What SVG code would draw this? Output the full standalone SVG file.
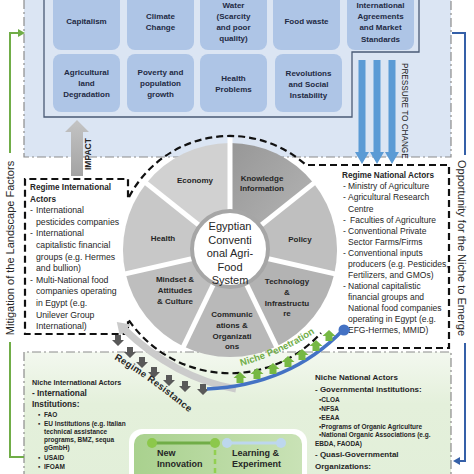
<svg xmlns="http://www.w3.org/2000/svg" width="474" height="474" viewBox="0 0 474 474">
<defs>
<style>
text{font-family:'Liberation Sans',Arial,Helvetica,sans-serif;fill:#262626}
.lb{font-weight:bold;font-size:8px;fill:#1f2a44;text-anchor:middle}
.bx{fill:#aec5e6}
.dd{fill:none;stroke:#8c8c8c;stroke-width:1.2;stroke-dasharray:9 3 2 3}
.rt{font-size:8.7px}
.rr{font-size:8.5px}
.hd{font-weight:bold}
.sg{font-weight:bold;font-size:8px;text-anchor:middle}
.ct{font-size:11px;text-anchor:middle}
.nb{font-weight:bold;font-size:6.5px}
.nh{font-weight:bold;font-size:8px}
.dv{stroke:#fff;stroke-width:5}
.side{font-size:11px;text-anchor:middle}
</style>
<linearGradient id="gk" x1="0" y1="0" x2="1" y2="1"><stop offset="0" stop-color="#979797"/><stop offset="1" stop-color="#b8b8b8"/></linearGradient>
<linearGradient id="gn" x1="0" y1="0" x2="0" y2="1"><stop offset="0" stop-color="#f3f8ef"/><stop offset="0.4" stop-color="#e4f0db"/><stop offset="1" stop-color="#e2efd9"/></linearGradient>
<linearGradient id="gi" x1="0" y1="0" x2="1" y2="0"><stop offset="0" stop-color="#a9d18e"/><stop offset="1" stop-color="#c9e2b6"/></linearGradient>
<linearGradient id="gm" x1="0" y1="0" x2="0" y2="1"><stop offset="0" stop-color="#c4c4c4"/><stop offset="1" stop-color="#a3a3a3"/></linearGradient>
<path id="pa" d="M-3.5,0 H3.5 V92 H7 L0,104 L-7,92 H-3.5 Z" fill="#5b9bd5"/>
<path id="da" d="M-3,-5 H3 V0 H6 L0,6 L-6,0 H-3 Z" fill="#595959"/>
<path id="ua" d="M-3.5,0 H3.5 V-5 H6.5 L0,-11 L-6.5,-5 H-3.5 Z" fill="#76b843"/>
<marker id="mg" markerUnits="userSpaceOnUse" markerWidth="14" markerHeight="16" refX="2" refY="8" orient="auto"><path d="M0,0 L12,8 L0,16 Z" fill="#cbcbcb"/></marker>
<path id="rrp" d="M114,359 Q152,381 193,416"/>
<path id="npp" d="M241,366 Q285,354 322,328"/>
</defs>

<!-- Landscape -->
<g id="landscape">
<rect x="24" y="-5" width="427" height="162" fill="#dbe5f3"/>
<path class="dd" d="M24,0 V157 H451 V0"/>
<path d="M44,0 V117 H352 V52 H419 V0" fill="none" stroke="#4a5a75" stroke-width="1.3"/>
</g>
<g id="capitalism"><rect class="bx" x="53" y="-10" width="67" height="60" rx="8"/><text class="lb" x="86.5" y="24">Capitalism</text></g>
<g id="climate"><rect class="bx" x="127" y="-10" width="67" height="60" rx="8"/><text class="lb" x="160.5" y="19">Climate</text><text class="lb" x="160.5" y="30">Change</text></g>
<g id="water"><rect class="bx" x="200" y="-10" width="67" height="60" rx="8"/><text class="lb" x="233.5" y="8">Water</text><text class="lb" x="233.5" y="19">(Scarcity</text><text class="lb" x="233.5" y="30">and poor</text><text class="lb" x="233.5" y="41">quality)</text></g>
<g id="foodwaste"><rect class="bx" x="273" y="-10" width="67" height="60" rx="8"/><text class="lb" x="306.5" y="24">Food waste</text></g>
<g id="agreements"><rect class="bx" x="347" y="-10" width="67" height="60" rx="8"/><text class="lb" x="380.5" y="8">International</text><text class="lb" x="380.5" y="19">Agreements</text><text class="lb" x="380.5" y="30">and Market</text><text class="lb" x="380.5" y="41.5">Standards</text></g>
<g id="degradation"><rect class="bx" x="53" y="54" width="67" height="58" rx="8"/><text class="lb" x="86.5" y="75">Agricultural</text><text class="lb" x="86.5" y="86">land</text><text class="lb" x="86.5" y="97">Degradation</text></g>
<g id="poverty"><rect class="bx" x="127" y="54" width="67" height="58" rx="8"/><text class="lb" x="160.5" y="74.5">Poverty and</text><text class="lb" x="160.5" y="85.5">population</text><text class="lb" x="160.5" y="96.5">growth</text></g>
<g id="health-problems"><rect class="bx" x="200" y="54" width="67" height="58" rx="8"/><text class="lb" x="233.5" y="81">Health</text><text class="lb" x="233.5" y="92">Problems</text></g>
<g id="revolutions"><rect class="bx" x="275" y="54" width="67" height="58" rx="8"/><text class="lb" x="308.5" y="76">Revolutions</text><text class="lb" x="308.5" y="87">and Social</text><text class="lb" x="308.5" y="98">Instability</text></g>

<!-- Niche area -->
<g id="niche">
<rect x="24" y="352" width="427" height="130" fill="url(#gn)"/>
<path class="dd" d="M24,480 V352 H451 V480"/>
</g>

<!-- Connectors -->
<g id="connectors">
<path d="M10,153 V33 H19" fill="none" stroke="#70ad47" stroke-width="2"/>
<polygon points="18,29 25,33 18,37" fill="#70ad47"/>
<path d="M10,342 V457 H24" fill="none" stroke="#70ad47" stroke-width="2"/>
<path d="M452,33 H465 V155" fill="none" stroke="#3560a8" stroke-width="2"/>
<path d="M465,343 V461 H459" fill="none" stroke="#3560a8" stroke-width="2"/>
<polygon points="460,457 453,461 460,465" fill="#3560a8"/>
<use href="#pa" x="362" y="60"/>
<use href="#pa" x="377" y="60"/>
<use href="#pa" x="392" y="60"/>
<path d="M71,176 V132 H65 L77,120 L89,132 H83 V176 Z" fill="url(#gm)"/>
<path d="M337,348 H449 V165 H306 A114,114 0 0 0 128,199 V179 H25 V334 H128 V319 A123,123 0 0 0 321,333" fill="none" stroke="#111" stroke-width="2.2" stroke-dasharray="7 4"/>
</g>
<text class="side" transform="translate(14,248) rotate(-90)">Mitigation of the Landscape Factors</text>
<text class="side" transform="translate(458,248) rotate(90)">Opportunity for the Niche to Emerge</text>
<text transform="translate(402,63) rotate(90)" font-size="8.2">PRESSURE TO CHANGE</text>
<text class="hd" transform="translate(91,170) rotate(-90)" font-size="8.5" fill="#333">IMPACT</text>

<!-- Wheel -->
<g id="wheel">
<path id="seg-knowledge" d="M230,250 L230,143 A107,107 0 0 1 313.65,183.29 Z" fill="url(#gk)"/>
<path id="seg-policy" d="M230,250 L313.65,183.29 A107,107 0 0 1 334.32,273.81 Z" fill="#bfbfbf"/>
<path id="seg-technology" d="M230,250 L334.32,273.81 A107,107 0 0 1 276.43,346.41 Z" fill="#b3b3b3"/>
<path id="seg-communications" d="M230,250 L276.43,346.41 A107,107 0 0 1 183.57,346.41 Z" fill="#b9b9b9"/>
<path id="seg-mindset" d="M230,250 L183.57,346.41 A107,107 0 0 1 125.68,273.81 Z" fill="#bebebe"/>
<path id="seg-health" d="M230,250 L125.68,273.81 A107,107 0 0 1 146.35,183.29 Z" fill="#c8c8c8"/>
<path id="seg-economy" d="M230,250 L146.35,183.29 A107,107 0 0 1 230,143 Z" fill="#d1d1d1"/>
<line class="dv" x1="230" y1="250" x2="230" y2="138"/>
<line class="dv" x1="230" y1="250" x2="317.56" y2="180.17"/>
<line class="dv" x1="230" y1="250" x2="339.19" y2="274.92"/>
<line class="dv" x1="230" y1="250" x2="278.6" y2="350.91"/>
<line class="dv" x1="230" y1="250" x2="181.4" y2="350.91"/>
<line class="dv" x1="230" y1="250" x2="120.81" y2="274.92"/>
<line class="dv" x1="230" y1="250" x2="142.44" y2="180.17"/>
<circle cx="230" cy="249" r="38" fill="#fff" stroke="#a6a6a6" stroke-width="4"/>
<text class="sg" x="195" y="183">Economy</text>
<text class="sg" x="262" y="181">Knowledge</text>
<text class="sg" x="262" y="191">Information</text>
<text class="sg" x="163" y="241">Health</text>
<text class="sg" x="300" y="242">Policy</text>
<text class="sg" x="175" y="282">Mindset &amp;</text>
<text class="sg" x="175" y="293">Attitudes</text>
<text class="sg" x="175" y="304">&amp; Culture</text>
<text class="sg" x="287" y="284">Technology</text>
<text class="sg" x="287" y="295">&amp;</text>
<text class="sg" x="287" y="306">Infrastructu</text>
<text class="sg" x="287" y="316">re</text>
<text class="sg" x="232" y="317">Communic</text>
<text class="sg" x="232" y="328">ations &amp;</text>
<text class="sg" x="232" y="339">Organizati</text>
<text class="sg" x="232" y="349">ons</text>
<text class="ct" x="230" y="230">Egyptian</text>
<text class="ct" x="230" y="244">Conventi</text>
<text class="ct" x="230" y="257">onal Agri-</text>
<text class="ct" x="230" y="271">Food</text>
<text class="ct" x="230" y="284">System</text>
</g>

<!-- Regime International Actors -->
<g id="regime-international" class="rt">
<text class="hd" x="30" y="190" font-size="8.2">Regime International</text>
<text class="hd" x="30" y="201.6" font-size="8.2">Actors</text>
<text x="30" y="213.2">-</text><text x="36" y="213.2">International</text>
<text x="36" y="224.8">pesticides companies</text>
<text x="30" y="236.4">-</text><text x="36" y="236.4">International</text>
<text x="36" y="248">capitalistic financial</text>
<text x="36" y="259.6">groups  (e.g. Hermes</text>
<text x="36" y="271.2">and bullion)</text>
<text x="30" y="282.8">-</text><text x="36" y="282.8">Multi-National food</text>
<text x="36" y="294.4">companies operating</text>
<text x="36" y="306">in Egypt (e.g.</text>
<text x="36" y="317.6">Unilever Group</text>
<text x="36" y="329.2">International)</text>
</g>

<!-- Regime National Actors -->
<g id="regime-national" class="rr">
<text class="hd" x="342" y="178.3" font-size="8.2">Regime National Actors</text>
<text x="343" y="189.4">-</text><text x="348" y="189.4">Ministry of Agriculture</text>
<text x="343" y="200.4">-</text><text x="348" y="200.4">Agricultural Research</text>
<text x="348" y="211.5">Centre</text>
<text x="343" y="222.6">-</text><text x="350" y="222.6">Faculties of Agriculture</text>
<text x="343" y="233.7">-</text><text x="348" y="233.7">Conventional Private</text>
<text x="348" y="244.7">Sector Farms/Firms</text>
<text x="343" y="255.8">-</text><text x="348" y="255.8">Conventional inputs</text>
<text x="348" y="266.9">producers (e.g. Pesticides,</text>
<text x="348" y="278">Fertilizers, and GMOs)</text>
<text x="343" y="289">-</text><text x="348" y="289">National capitalistic</text>
<text x="348" y="300.1">financial groups and</text>
<text x="348" y="311.2">National food companies</text>
<text x="348" y="322.3">operating in Egypt (e.g.</text>
<text x="348" y="333.3">EFG-Hermes, MMID)</text>
</g>

<!-- Regime resistance -->
<g id="regime-resistance">
<path d="M236,389 Q175,378 124,329" fill="none" stroke="#cbcbcb" stroke-width="7" marker-end="url(#mg)"/>
<use href="#da" x="118" y="340"/>
<use href="#da" x="130" y="352"/>
<use href="#da" x="142" y="362"/>
<use href="#da" x="154" y="372"/>
<use href="#da" x="169" y="380"/>
<use href="#da" x="185" y="386"/>
<use href="#da" x="203" y="389"/>
<text class="hd" font-size="9.5" fill="#111" letter-spacing="0.3"><textPath href="#rrp">Regime Resistance</textPath></text>
</g>

<!-- Niche penetration -->
<g id="niche-penetration">
<path d="M207,389 Q290,385 343,330" fill="none" stroke="#4472c4" stroke-width="3.5"/>
<circle cx="344" cy="330" r="5.5" fill="#4472c4"/>
<use href="#ua" x="240" y="383"/>
<use href="#ua" x="257" y="379"/>
<use href="#ua" x="273" y="374"/>
<use href="#ua" x="288" y="367"/>
<use href="#ua" x="302" y="360"/>
<use href="#ua" x="316" y="351"/>
<use href="#ua" x="329" y="341"/>
<text class="hd" font-size="9.5" style="fill:#70ad47"><textPath href="#npp">Niche</textPath></text>
<text class="hd" font-size="9.5" style="fill:#70ad47"><textPath href="#npp" startOffset="29">Penetration</textPath></text>
</g>

<!-- Niche International Actors -->
<g id="niche-international">
<text class="hd" x="32" y="385" font-size="7.2">Niche International Actors</text>
<text class="hd" x="32" y="396" font-size="8.3">- International</text>
<text class="hd" x="32" y="407" font-size="8.3">Institutions:</text>
<text class="nb" x="38" y="416.5">▪</text><text class="nb" x="44" y="416.5">FAO</text>
<text class="nb" x="38" y="425.5">▪</text><text class="nb" x="44" y="425.5">EU Institutions (e.g. Italian</text>
<text class="nb" x="44" y="433.5">technical assistance</text>
<text class="nb" x="44" y="441.5">programs, BMZ, sequa</text>
<text class="nb" x="44" y="450">gGmbH)</text>
<text class="nb" x="38" y="459.5">▪</text><text class="nb" x="44" y="459.5">USAID</text>
<text class="nb" x="38" y="468.5">▪</text><text class="nb" x="44" y="468.5">IFOAM</text>
</g>

<!-- Niche National Actors -->
<g id="niche-national">
<text class="nh" x="315" y="380">Niche National Actors</text>
<text class="nh" x="315" y="392">- Governmental institutions:</text>
<text class="nb" x="319" y="401.5">▪CLOA</text>
<text class="nb" x="319" y="410.5">▪NFSA</text>
<text class="nb" x="319" y="419.5">▪EEAA</text>
<text class="nb" x="319" y="428.5">▪Programs of Organic Agriculture</text>
<text class="nb" x="319" y="437">▪National Organic Associations (e.g.</text>
<text class="nb" x="315" y="446">EBDA, FAODA)</text>
<text class="nh" x="315" y="456.5">- Quasi-Governmental</text>
<text class="nh" x="315" y="469">Organizations:</text>
</g>

<!-- Innovation box -->
<g id="innovation">
<rect x="129" y="429" width="178" height="60" rx="13" fill="#fff"/>
<rect x="134" y="434" width="168" height="55" rx="10" fill="url(#gi)"/>
<line x1="152" y1="443" x2="215" y2="443" stroke="#70ad47" stroke-width="3"/>
<line x1="227" y1="443" x2="281" y2="443" stroke="#bdd7ee" stroke-width="3"/>
<line x1="215" y1="450" x2="215" y2="474" stroke="#92d050" stroke-width="2.5" stroke-dasharray="5 4"/>
<circle cx="152" cy="443" r="5" fill="#8cc84b"/>
<circle cx="215" cy="443" r="5" fill="#8cc84b"/>
<circle cx="227" cy="443" r="5" fill="#bdd7ee"/>
<circle cx="281" cy="443" r="5" fill="#bdd7ee"/>
<text class="hd" x="157" y="455.5" font-size="9">New</text>
<text class="hd" x="157" y="466.5" font-size="9">Innovation</text>
<text class="hd" x="232" y="455.5" font-size="9">Learning &amp;</text>
<text class="hd" x="232" y="466.5" font-size="9">Experiment</text>
</g>
</svg>
